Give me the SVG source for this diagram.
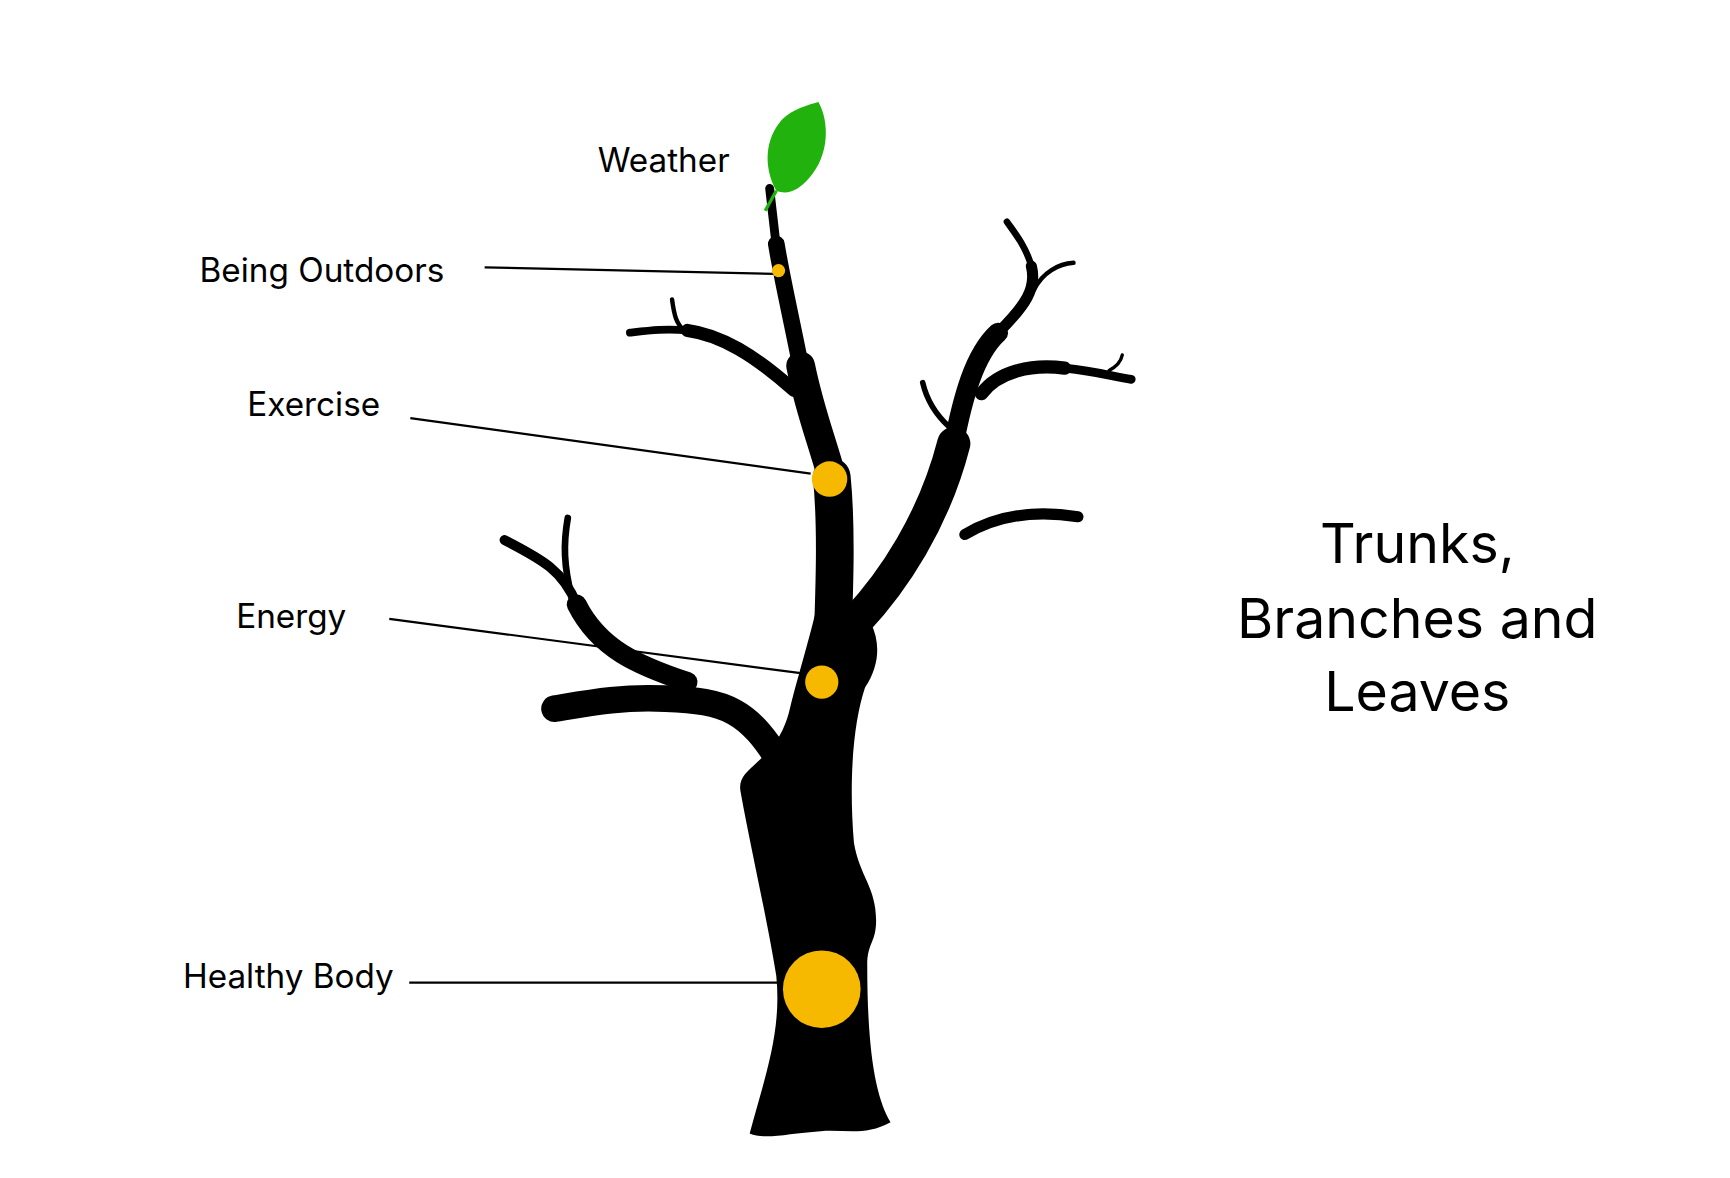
<svg xmlns="http://www.w3.org/2000/svg" width="1730" height="1178" viewBox="0 0 1730 1178">
<style>
.lbl{font-family:Inter,"Noto Sans",sans-serif;font-size:30px;fill:#000}
.ttl{font-family:Inter,"Noto Sans",sans-serif;font-size:50px;fill:#000;text-anchor:middle}
.br{fill:none;stroke:#000;stroke-linecap:round;stroke-linejoin:round}
.dot{fill:#F7B900}
.ln{stroke:#000;stroke-width:2;fill:none}
</style>
<rect width="1730" height="1178" fill="#fff"/>
<g transform="scale(1.109)">
<g id="tree">
<path fill="#000" d="M676,1022 C690,970 705,930 700,880 C692,830 676,760 668,715 C662,690 700,690 712,640 C722,600 735,560 740,530 L772,545 C790,560 800,590 780,620 C770,650 765,700 770,760 C775,790 790,800 790,830 C790,850 782,850 782,870 C782,950 790,990 803,1012 C780,1025 760,1018 740,1020 C710,1022 690,1028 676,1022 Z"/>
<path class="br" stroke-width="24" d="M705,690 C675,640 655,632 600,630 C560,628 530,634 500,639"/>
<path class="br" stroke-width="18" d="M620,615 C575,600 540,585 520,545"/>
<path class="br" stroke-width="9" d="M520,545 C508,515 490,505 455,487"/>
<path class="br" stroke-width="6" d="M512,467 C508,490 508,510 516,540"/>
<path class="br" stroke-width="34" d="M750,600 C752,540 755,480 750,430"/>
<path class="br" stroke-width="26" d="M750,430 C742,400 730,370 722,330"/>
<path class="br" stroke-width="15" d="M722,330 C712,280 705,250 700,220"/>
<path class="br" stroke-width="8" d="M700,222 L694,170"/>
<path class="br" stroke-width="12" d="M716,352 C680,320 650,302 620,298"/>
<path class="br" stroke-width="7" d="M620,298 C600,296 585,298 568,300"/>
<path class="br" stroke-width="4" d="M606,270 C608,285 610,292 617,298"/>
<path class="br" stroke-width="30" d="M772,560 C805,525 842,470 860,400"/>
<path class="br" stroke-width="18" d="M860,400 C868,360 878,320 900,300"/>
<path class="br" stroke-width="10" d="M900,300 C925,275 935,260 930,240"/>
<path class="br" stroke-width="6" d="M930,240 C925,222 915,210 908,200"/>
<path class="br" stroke-width="4" d="M932,262 C940,245 955,238 968,237"/>
<path class="br" stroke-width="12" d="M885,355 C900,335 930,328 960,332"/>
<path class="br" stroke-width="8" d="M960,332 C990,335 1005,340 1020,342"/>
<path class="br" stroke-width="3" d="M1000,334 C1008,330 1011,325 1012,320"/>
<path class="br" stroke-width="5" d="M832,345 C836,362 845,375 856,385"/>
<path class="br" stroke-width="10" d="M870,482 C900,464 935,460 972,466"/>
</g>
<g id="leaf">
<path d="M700,172 C688,150 690,125 705,108 C715,98 728,95 738,92 C748,110 748,140 730,160 C720,172 710,176 700,172 Z" fill="#22B20E"/>
<path d="M700,172 L690,190" stroke="#22B20E" stroke-width="3" fill="none"/>
<text class="lbl" x="539" y="155">Weather</text>
</g>
<g id="connectors">
<line class="ln" x1="437" y1="241" x2="698" y2="247"/>
<line class="ln" x1="370" y1="377" x2="731" y2="427"/>
<line class="ln" x1="351" y1="558" x2="722" y2="607"/>
<line class="ln" x1="369" y1="886" x2="706" y2="886"/>
</g>
<g id="n-outdoors"><circle class="dot" cx="702" cy="244" r="6"/><text class="lbl" x="180" y="254">Being Outdoors</text></g>
<g id="n-exercise"><circle class="dot" cx="748" cy="432" r="16"/><text class="lbl" x="223" y="375">Exercise</text></g>
<g id="n-energy"><circle class="dot" cx="741" cy="615" r="15"/><text class="lbl" x="213" y="566">Energy</text></g>
<g id="n-body"><circle class="dot" cx="741" cy="892" r="35"/><text class="lbl" x="165" y="891">Healthy Body</text></g>
<g id="title">
<text class="ttl" x="1278" y="508">Trunks,</text>
<text class="ttl" x="1278" y="575">Branches and</text>
<text class="ttl" x="1278" y="641">Leaves</text>
</g>
</g>
</svg>
